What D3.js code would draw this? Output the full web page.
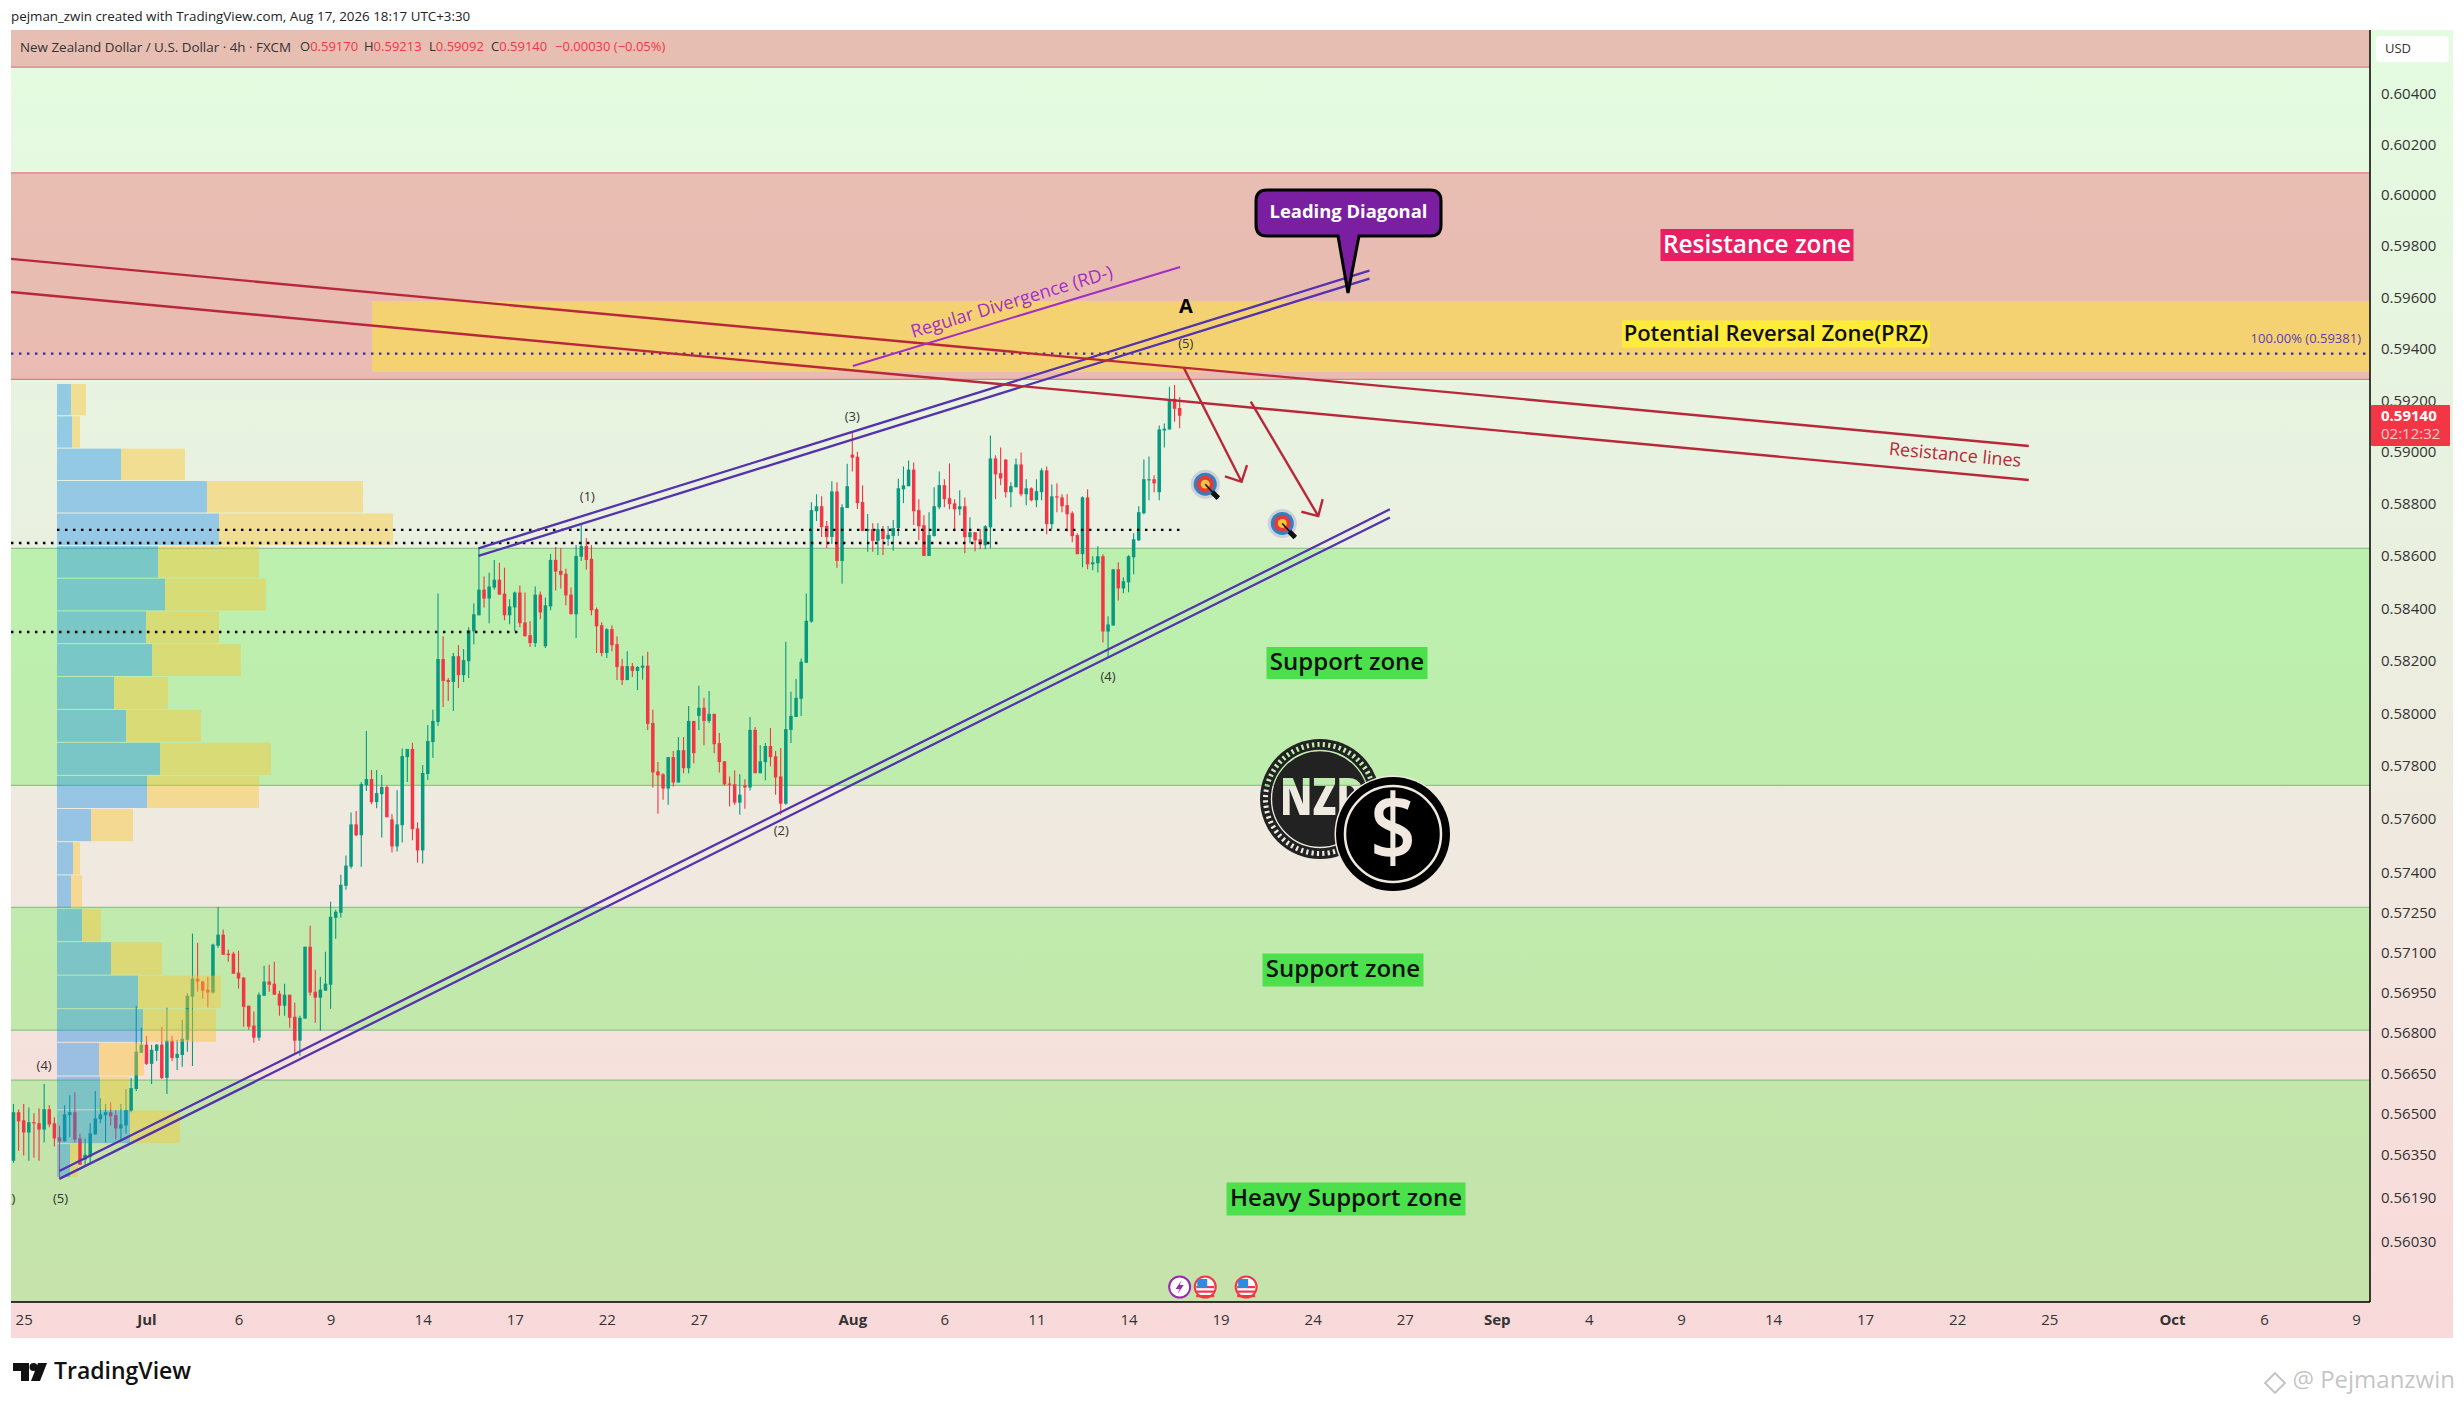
<!DOCTYPE html>
<html>
<head>
<meta charset="utf-8">
<script src="https://cdn.jsdelivr.net/npm/d3@7"></script>
<style>
  html, body { margin: 0; background: #fff; }
  svg { display: block; }
  text { font-family: "Open Sans", sans-serif; }
</style>
</head>
<body>
<svg id="chart" width="2464" height="1406"></svg>
<script>
// 4h candles, in 1/100000 of a dollar. First value is bar -2 (bar 0 is the "25" tick)
const opens = [56327,56506,56476,56431,56469,56465,56442,56517,56465,56413,56398,56495,56506,56409,56331,56342,56424,56480,56495,56506,56495,56446,56457,56510,56592,56726,56756,56685,56733,56756,56633,56771,56707,56718,56774,56935,57002,56991,56961,56950,57125,57166,57095,57095,57024,57006,56901,56827,56782,56938,56991,56983,56946,56901,56942,56860,56771,56853,57121,56953,56931,56957,56979,57229,57248,57349,57421,57580,57539,57728,57751,57664,57694,57721,57599,57497,57577,57834,57865,57565,57482,57770,57891,57967,58206,58126,58119,58217,58145,58198,58312,58373,58471,58437,58479,58509,58456,58373,58403,58460,58346,58297,58267,58452,58255,58407,58585,58543,58532,58452,58377,58597,58638,58589,58396,58335,58229,58320,58263,58179,58126,58179,58161,58173,58181,57963,57780,57769,57715,57834,57738,57860,57792,57971,57990,58021,57971,57998,57887,57818,57734,57731,57662,57727,57719,57937,57773,57815,57876,57837,57761,57658,57937,57986,58055,58192,58349,58772,58791,58715,58673,58848,58581,58784,58990,58982,58807,58696,58703,58658,58703,58665,58677,58707,58856,58868,58932,58776,58718,58600,58676,58787,58872,58822,58802,58779,58791,58672,58691,58664,58641,58710,58975,58918,58971,58845,58864,58952,58837,58860,58814,58845,58929,58722,58829,58825,58795,58764,58680,58607,58825,58568,58572,58599,58311,58334,58549,58476,58499,58595,58660,58764,58891,58895,58845,59083,59087,59206,59170];
const closes = [56506,56472,56431,56469,56465,56442,56517,56461,56409,56398,56498,56506,56405,56312,56349,56428,56483,56498,56506,56491,56446,56461,56513,56595,56730,56756,56685,56737,56756,56633,56771,56707,56722,56778,56938,57002,56991,56957,56950,57129,57166,57091,57091,57020,57002,56897,56823,56782,56942,56991,56979,56942,56901,56942,56856,56771,56856,57121,56950,56931,56961,56983,57233,57252,57353,57425,57580,57539,57732,57751,57664,57698,57721,57607,57497,57580,57838,57865,57562,57482,57774,57895,57971,58206,58123,58119,58217,58145,58202,58316,58377,58471,58437,58483,58509,58452,58373,58407,58460,58343,58293,58267,58452,58384,58411,58585,58540,58528,58449,58377,58600,58638,58585,58392,58331,58229,58320,58259,58176,58126,58179,58161,58176,58181,57960,57776,57765,57715,57834,57738,57860,57792,57971,57849,58021,57971,57998,57883,57815,57731,57731,57662,57692,57719,57937,57773,57818,57876,57834,57757,57658,57940,57990,58059,58196,58352,58776,58791,58711,58673,58848,58581,58787,58868,58978,58803,58696,58703,58658,58703,58665,58681,58707,58860,58871,58932,58772,58714,58600,58680,58791,58872,58818,58799,58779,58791,58672,58691,58660,58645,58714,58975,58914,58898,58845,58868,58952,58837,58860,58814,58849,58929,58722,58829,58825,58791,58760,58676,58607,58825,58568,58576,58599,58311,58338,58549,58476,58503,58599,58664,58768,58895,58895,58879,59087,59090,59202,59167,59140];
const highs = [56536,56516,56536,56523,56502,56520,56610,56532,56487,56456,56532,56569,56580,56426,56409,56465,56584,56558,56536,56543,56513,56536,56592,56633,56901,56819,56789,56756,56759,56823,56894,56789,56774,56849,56946,57170,57136,56994,57009,57132,57270,57185,57110,57102,57106,57006,56901,56879,56950,57050,57054,57065,56957,56983,56942,56912,56864,57121,57199,57035,57009,57102,57289,57259,57391,57463,57625,57630,57740,57933,57785,57785,57766,57728,57618,57709,57867,57865,57888,57588,57804,57956,58013,58456,58293,58134,58229,58259,58244,58327,58418,58631,58521,58536,58585,58574,58555,58434,58464,58487,58460,58350,58483,58464,58441,58608,58634,58631,58551,58479,58642,58724,58669,58642,58403,58346,58324,58335,58293,58206,58236,58191,58179,58219,58234,58013,57815,57773,57834,57857,57910,57910,58028,57971,58105,58059,58085,57998,57925,57818,57761,57784,57769,57750,57986,57948,57879,57887,57944,57857,57868,58272,58082,58131,58208,58456,58806,58837,58829,58734,58887,58883,58799,58955,59077,59001,58871,58761,58726,58726,58715,58715,58738,58897,58944,58967,58959,58818,58756,58768,58864,58925,58895,58956,58818,58852,58825,58749,58691,58703,58718,59064,58987,59017,58971,58883,58975,58998,58895,58864,58895,58937,58944,58875,58879,58837,58837,58772,58687,58829,58856,58599,58637,58607,58369,58549,58576,58518,58603,58687,58791,58971,58983,58910,59102,59110,59252,59259,59213];
const lows = [56319,56364,56346,56327,56338,56327,56394,56450,56379,56265,56398,56414,56394,56312,56312,56319,56424,56465,56394,56457,56405,56401,56426,56506,56584,56726,56681,56610,56696,56629,56573,56696,56662,56674,56730,56677,56953,56927,56894,56946,57117,57091,57065,57020,56965,56823,56812,56763,56771,56938,56953,56942,56864,56864,56819,56726,56715,56853,56938,56838,56808,56957,56890,57151,57229,57334,57414,57535,57421,57706,57656,57641,57531,57607,57474,57478,57512,57740,57520,57436,57433,57747,57831,57952,58024,58047,58009,58096,58119,58134,58263,58373,58403,58343,58471,58452,58354,58339,58312,58327,58293,58252,58252,58358,58248,58392,58468,58475,58411,58377,58286,58581,58547,58373,58229,58217,58210,58236,58126,58107,58126,58138,58088,58127,57937,57719,57620,57673,57654,57723,57738,57773,57773,57811,57937,57879,57963,57849,57776,57727,57647,57654,57616,57639,57708,57773,57773,57746,57799,57692,57616,57654,57887,57986,57990,58192,58345,58734,58673,58631,58646,58555,58494,58784,58925,58780,58696,58616,58616,58604,58604,58639,58620,58677,58803,58868,58719,58660,58600,58600,58676,58779,58787,58779,58695,58756,58610,58649,58618,58626,58626,58630,58818,58872,58825,58787,58864,58829,58795,58810,58787,58814,58683,58703,58768,58768,58695,58653,58607,58557,58549,58545,58537,58269,58215,58334,58430,58457,58461,58530,58657,58760,58814,58845,58814,59017,59087,59117,59092];

// price axis labels
const priceTicks = [0.604,0.602,0.6,0.598,0.596,0.594,0.592,0.59,0.588,0.586,0.584,0.582,0.58,0.578,0.576,0.574,0.5725,0.571,0.5695,0.568,0.5665,0.565,0.5635,0.5619,0.5603];

// time axis labels, with the bar they sit on
const dateLabels = ["25","Jul","6","9","14","17","22","27","Aug","6","11","14","19","24","27","Sep","4","9","14","17","22","25","Oct","6","9"];
const dateBars = [0,24,42,60,78,96,114,132,162,180,198,216,234,252,270,288,306,324,342,360,378,396,420,438,456];
const monthLabels = ["Jul","Aug","Sep","Oct"];

// volume profile: 24 rows of 0.00125 from the top price down
const profileTop = 0.59263;
const profileStep = 0.00125;
const upVolume = [14,15,64,150,162,101,108,89,95,57,69,103,90,34,16,14,25,54,81,86,42,43,73,13];
const downVolume = [15,8,64,156,174,101,101,73,89,54,75,111,112,42,7,11,19,51,83,73,45,29,50,8];

const redZones = [[0.6072,0.60504],[0.60087,0.59281]];
const greenZones = [[0.58629,0.57727],[0.57268,0.5681],[0.56625,0.55809]];
const przZone = [0.59586,0.5931];
const przStartBar = 68.1;

const w = 2464, h = 1406;
const chart = { left: 11, right: 2370, top: 30, bottom: 1302, panelRight: 2453, panelBottom: 1338 };

const x = d3.scaleLinear().domain([0, 456]).range([23.7, 2356.1]);
const y = d3.scaleLog().domain([0.604, 0.5603]).range([93.5, 1241.5]);

const svg = d3.select("#chart");
const defs = svg.append("defs");

const bgGrad = defs.append("linearGradient").attr("id", "bgGrad")
  .attr("gradientUnits", "userSpaceOnUse")
  .attr("x1", 0).attr("x2", 0).attr("y1", chart.top).attr("y2", chart.panelBottom);
[[0,"#e3fce0"],[0.36,"#e9f1e0"],[0.67,"#f1e8df"],[0.78,"#f5e1dc"],[1,"#f9d9da"]].forEach((s) =>
  bgGrad.append("stop").attr("offset", s[0]).attr("stop-color", s[1]));

defs.append("clipPath").attr("id", "plotClip").append("rect")
  .attr("x", chart.left).attr("y", chart.top)
  .attr("width", chart.right - chart.left).attr("height", chart.bottom - chart.top);

svg.append("rect").attr("x", chart.left).attr("y", chart.top)
  .attr("width", chart.panelRight - chart.left).attr("height", chart.panelBottom - chart.top)
  .attr("fill", "url(#bgGrad)");

const plot = svg.append("g").attr("clip-path", "url(#plotClip)");

// zones
function zone(top, bottom, x0, fill, opacity, edge) {
  plot.append("rect").attr("x", x0).attr("y", y(top))
    .attr("width", chart.right - x0).attr("height", y(bottom) - y(top))
    .attr("fill", fill).attr("fill-opacity", opacity);
  if (!edge) return;
  [top, bottom].forEach((p) =>
    plot.append("line").attr("x1", x0).attr("x2", chart.right).attr("y1", y(p)).attr("y2", y(p))
      .attr("stroke", edge).attr("stroke-width", 1.3));
}
redZones.forEach((z) => zone(z[0], z[1], chart.left, "rgb(235,140,140)", 0.55, "#e07a86"));
greenZones.forEach((z) => zone(z[0], z[1], chart.left, "rgb(120,240,100)", 0.4, "#8cc48a"));
zone(przZone[0], przZone[1], x(przStartBar), "#f5d271", 1, null);

// candles
const candles = opens.map((o, i) => ({ bar: i - 2, o: o / 1e5, c: closes[i] / 1e5, h: highs[i] / 1e5, l: lows[i] / 1e5 }));
const up = "#089981", down = "#f23645";
const candle = plot.append("g").selectAll("g").data(candles).join("g");
candle.append("line")
  .attr("x1", (d) => x(d.bar)).attr("x2", (d) => x(d.bar))
  .attr("y1", (d) => y(d.h)).attr("y2", (d) => y(d.l))
  .attr("stroke", (d) => (d.c >= d.o ? up : down)).attr("stroke-width", 1.1);
candle.append("rect")
  .attr("x", (d) => x(d.bar) - 1.75).attr("width", 3.5)
  .attr("y", (d) => y(Math.max(d.o, d.c)))
  .attr("height", (d) => Math.max(1.2, y(Math.min(d.o, d.c)) - y(Math.max(d.o, d.c))))
  .attr("fill", (d) => (d.c >= d.o ? up : down));

// volume profile
const vol = d3.scaleLinear().domain([0, 100]).range([57, 157]);
const profile = plot.append("g").selectAll("g").data(upVolume).join("g");
const rowTop = (i) => y(profileTop - i * profileStep);
const rowH = (i) => rowTop(i + 1) - rowTop(i) - 1;
profile.append("rect")
  .attr("x", vol(0)).attr("y", (d, i) => rowTop(i))
  .attr("width", (d) => vol(d) - vol(0)).attr("height", (d, i) => rowH(i))
  .attr("fill", "rgb(20,140,235)").attr("fill-opacity", 0.4);
profile.append("rect")
  .attr("x", (d) => vol(d)).attr("y", (d, i) => rowTop(i))
  .attr("width", (d, i) => vol(downVolume[i]) - vol(0)).attr("height", (d, i) => rowH(i))
  .attr("fill", "rgb(250,195,48)").attr("fill-opacity", 0.44);

// dotted levels [price, fromBar, toBar]
const dottedLevels = [[0.587,6.5,226,"#000"],[0.5865,-2.5,190.4,"#000"],[0.58309,-2.5,96.6,"#000"],[0.59381,-2.5,456,"#3c2aa0"]];
plot.append("g").selectAll("line").data(dottedLevels).join("line")
  .attr("x1", (d) => x(d[1])).attr("x2", (d) => (d[2] === 456 ? chart.right : x(d[2])))
  .attr("y1", (d) => y(d[0])).attr("y2", (d) => y(d[0]))
  .attr("stroke", (d) => d[3]).attr("stroke-width", 2.4).attr("stroke-dasharray", "2.5 5.5");

// trend lines [bar, price, bar, price]
const wedgeLines = [
  [6.96,0.56289,267.1,0.58779],[6.96,0.5626,267.1,0.58748],
  [88.9,0.58629,263.1,0.59704],[88.9,0.586,263.1,0.59673]
];
const resistanceLines = [[-2.48,0.5975,392,0.59023],[-2.48,0.59621,392,0.58892]];
const divergenceLine = [[162.1,0.59333,226.1,0.59718]];
function drawLines(rows, color, width) {
  plot.append("g").selectAll("line").data(rows).join("line")
    .attr("x1", (d) => x(d[0])).attr("y1", (d) => y(d[1]))
    .attr("x2", (d) => x(d[2])).attr("y2", (d) => y(d[3]))
    .attr("stroke", color).attr("stroke-width", width);
}
drawLines(wedgeLines, "#5433ad", 2.3);
drawLines(resistanceLines, "#b8283a", 2.4);
drawLines(divergenceLine, "#a32fc4", 2);

// arrows
const arrows = [[226.8,0.59326,238.1,0.58885],[239.9,0.59195,253.1,0.58753]];
arrows.forEach((a) => {
  const x1 = x(a[0]), y1 = y(a[1]), x2 = x(a[2]), y2 = y(a[3]);
  const ang = Math.atan2(y1 - y2, x1 - x2), len = 17.5, spread = Math.PI / 4;
  const barb = (s) => `${x2 + len * Math.cos(ang + s)},${y2 + len * Math.sin(ang + s)}`;
  plot.append("path")
    .attr("d", `M${x1},${y1}L${x2},${y2}M${barb(spread)}L${x2},${y2}L${barb(-spread)}`)
    .attr("fill", "none").attr("stroke", "#b8283a").attr("stroke-width", 2.4);
});

// target icons
const targets = [[231,0.58876],[246.06,0.58725]];
targets.forEach((t) => {
  const g = svg.append("g").attr("transform", `translate(${x(t[0])},${y(t[1])})`);
  [[14.5,"#cdd0d6"],[11.5,"#2f80c4"],[8.5,"#e23b3b"],[4.5,"#efc23f"]].forEach((r) =>
    g.append("circle").attr("r", r[0]).attr("fill", r[1]));
  g.append("line").attr("x1", 0).attr("y1", 0).attr("x2", 13).attr("y2", 14)
    .attr("stroke", "#111").attr("stroke-width", 1.5);
  g.append("line").attr("x1", 7).attr("y1", 8).attr("x2", 13).attr("y2", 14)
    .attr("stroke", "#111").attr("stroke-width", 5);
});

// wave labels
const waveLabels = [["(1)",110.2,0.58825],["(2)",148.1,0.57552],["(3)",162,0.59134],["(4)",212,0.58137],["(5)",227.2,0.59417],["(4)",4,0.56675],["(5)",7.2,0.56185],[")",-2,0.56185]];
svg.append("g").selectAll("text").data(waveLabels).join("text")
  .attr("x", (d) => x(d[1])).attr("y", (d) => y(d[2]))
  .attr("text-anchor", "middle").attr("dominant-baseline", "middle")
  .attr("font-size", 13).attr("fill", "#333").text((d) => d[0]);
svg.append("text").attr("x", x(227.2)).attr("y", y(0.59561))
  .attr("text-anchor", "middle").attr("dominant-baseline", "middle")
  .attr("font-size", 20).attr("font-weight", 700).attr("fill", "#000").text("A");

svg.append("text")
  .attr("transform", `translate(1012,303) rotate(-16.8)`)
  .attr("text-anchor", "middle").attr("dominant-baseline", "middle")
  .attr("font-size", 18.2).attr("fill", "#a32fc4").text("Regular Divergence (RD-)");
svg.append("text")
  .attr("transform", `translate(1955,456) rotate(5.3)`)
  .attr("text-anchor", "middle").attr("dominant-baseline", "middle")
  .attr("font-size", 18).attr("fill", "#b8283a").text("Resistance lines");
svg.append("text").attr("x", 2361).attr("y", 340).attr("text-anchor", "end")
  .attr("dominant-baseline", "middle").attr("font-size", 13).attr("fill", "#5a3fb0")
  .text("100.00% (0.59381)");

// boxed zone names [text, cx, cy, w, h, bg, color, size]
const zoneLabels = [
  ["Resistance zone",1757,245,193,32,"#e91e63","#fff",24.4],
  ["Potential Reversal Zone(PRZ)",1776,334,308,27,"#ffeb3b","#111",22],
  ["Support zone",1347,663,161,32,"#4ce04c","#111",24],
  ["Support zone",1343,970,161,33,"#4ce04c","#111",24],
  ["Heavy Support zone",1346,1199,239,33,"#4ce04c","#111",24]
];
const zl = svg.append("g").selectAll("g").data(zoneLabels).join("g");
zl.append("rect").attr("x", (d) => d[1] - d[3] / 2).attr("y", (d) => d[2] - d[4] / 2)
  .attr("width", (d) => d[3]).attr("height", (d) => d[4]).attr("fill", (d) => d[5]);
zl.append("text").attr("x", (d) => d[1]).attr("y", (d) => d[2] + 1)
  .attr("text-anchor", "middle").attr("dominant-baseline", "middle")
  .attr("font-weight", 600).attr("font-size", (d) => d[7]).attr("fill", (d) => d[6]).text((d) => d[0]);

// callout
const cb = { x0: 1256, x1: 1441, y0: 190, y1: 236, r: 11, tx0: 1338, tx1: 1359, tipX: 1348, tipY: 293 };
svg.append("path")
  .attr("d", `M${cb.x0 + cb.r},${cb.y0}H${cb.x1 - cb.r}Q${cb.x1},${cb.y0} ${cb.x1},${cb.y0 + cb.r}V${cb.y1 - cb.r}Q${cb.x1},${cb.y1} ${cb.x1 - cb.r},${cb.y1}H${cb.tx1}L${cb.tipX},${cb.tipY}L${cb.tx0},${cb.y1}H${cb.x0 + cb.r}Q${cb.x0},${cb.y1} ${cb.x0},${cb.y1 - cb.r}V${cb.y0 + cb.r}Q${cb.x0},${cb.y0} ${cb.x0 + cb.r},${cb.y0}Z`)
  .attr("fill", "#7b1fa2").attr("stroke", "#000").attr("stroke-width", 3);
svg.append("text").attr("x", 1348.5).attr("y", 213).attr("text-anchor", "middle")
  .attr("dominant-baseline", "middle").attr("font-size", 18.4).attr("font-weight", 700)
  .attr("fill", "#fff").text("Leading Diagonal");

// coins, letters punched out so the zones show through
const nzdMask = defs.append("mask").attr("id", "nzdMask").attr("maskUnits", "userSpaceOnUse")
  .attr("x", 1250).attr("y", 730).attr("width", 140).attr("height", 140);
nzdMask.append("circle").attr("cx", 1320).attr("cy", 799).attr("r", 60).attr("fill", "#fff");
nzdMask.append("circle").attr("cx", 1320).attr("cy", 799).attr("r", 54.5).attr("fill", "none")
  .attr("stroke", "#000").attr("stroke-width", 5).attr("stroke-dasharray", "2.2 3.2");
nzdMask.append("circle").attr("cx", 1320).attr("cy", 799).attr("r", 48.5).attr("fill", "none")
  .attr("stroke", "#000").attr("stroke-width", 1.3);
nzdMask.append("text").attr("x", 1280).attr("y", 801).attr("dominant-baseline", "middle")
  .attr("textLength", 85).attr("lengthAdjust", "spacingAndGlyphs")
  .attr("font-size", 52).attr("font-weight", 800).attr("fill", "#000").text("NZD");
svg.append("rect").attr("x", 1250).attr("y", 730).attr("width", 140).attr("height", 140)
  .attr("fill", "#222").attr("mask", "url(#nzdMask)");

const usdMask = defs.append("mask").attr("id", "usdMask").attr("maskUnits", "userSpaceOnUse")
  .attr("x", 1330).attr("y", 770).attr("width", 130).attr("height", 130);
usdMask.append("circle").attr("cx", 1393).attr("cy", 834).attr("r", 57).attr("fill", "#fff");
usdMask.append("circle").attr("cx", 1393).attr("cy", 834).attr("r", 48).attr("fill", "none")
  .attr("stroke", "#000").attr("stroke-width", 2.5);
usdMask.append("text").attr("x", 1370).attr("y", 836).attr("dominant-baseline", "middle")
  .attr("textLength", 46).attr("lengthAdjust", "spacingAndGlyphs")
  .attr("font-size", 92).attr("font-weight", 600).attr("fill", "#000").text("$");
svg.append("circle").attr("cx", 1393).attr("cy", 834).attr("r", 58.5).attr("fill", "#f1e8df");
svg.append("rect").attr("x", 1330).attr("y", 770).attr("width", 130).attr("height", 130)
  .attr("fill", "#000").attr("mask", "url(#usdMask)");

// event icons on the time axis edge
const eventIcons = [[226,"bolt"],[231,"flag"],[239,"flag"]];
eventIcons.forEach((e) => {
  const g = svg.append("g").attr("transform", `translate(${x(e[0])},1287)`);
  if (e[1] === "bolt") {
    g.append("circle").attr("r", 10.5).attr("fill", "#fff").attr("stroke", "#9c27b0").attr("stroke-width", 2);
    g.append("path").attr("d", "M2,-7L-4,2H0L-2,7L4,-2H0Z").attr("fill", "#9c27b0");
  } else {
    g.append("circle").attr("r", 10.5).attr("fill", "#fff").attr("stroke", "#f23645").attr("stroke-width", 2);
    [-1, 3.5, 8].forEach((v) => g.append("rect").attr("x", -9).attr("y", v).attr("width", 18).attr("height", 2.2).attr("fill", "#f23645"));
    g.append("rect").attr("x", -8).attr("y", -8).attr("width", 10).attr("height", 9).attr("fill", "#2d8be0");
  }
});

// axes
const yAxis = svg.append("g").attr("transform", `translate(${chart.right},0)`)
  .call(d3.axisRight(y).tickValues(priceTicks).tickFormat(d3.format(".5f")).tickSize(0).tickPadding(11));
yAxis.select(".domain").remove();
yAxis.selectAll("text").attr("font-size", 15).attr("font-family", '"Open Sans", sans-serif').attr("fill", "#333");

const barLabel = (b) => dateLabels[dateBars.indexOf(b)];
const xAxis = svg.append("g").attr("transform", `translate(0,${chart.bottom})`)
  .call(d3.axisBottom(x).tickValues(dateBars).tickFormat(barLabel).tickSize(0).tickPadding(12));
xAxis.select(".domain").remove();
xAxis.selectAll("text").attr("font-size", 15).attr("font-family", '"Open Sans", sans-serif').attr("fill", "#333")
  .attr("font-weight", (b) => (monthLabels.includes(barLabel(b)) ? 700 : 400));

svg.append("line").attr("x1", chart.right).attr("x2", chart.right).attr("y1", chart.top).attr("y2", chart.bottom)
  .attr("stroke", "#000").attr("stroke-width", 1.5);
svg.append("line").attr("x1", chart.left).attr("x2", chart.right).attr("y1", chart.bottom).attr("y2", chart.bottom)
  .attr("stroke", "#000").attr("stroke-width", 1.5);

// currency box and last price tag
svg.append("rect").attr("x", 2376).attr("y", 36).attr("width", 73).attr("height", 26).attr("rx", 4).attr("fill", "#fff");
svg.append("text").attr("x", 2385).attr("y", 50).attr("dominant-baseline", "middle").attr("font-size", 13).attr("fill", "#333").text("USD");
svg.append("rect").attr("x", 2371).attr("y", 405).attr("width", 79).attr("height", 41).attr("rx", 1).attr("fill", "#f23645");
svg.append("text").attr("x", 2381).attr("y", 417).attr("dominant-baseline", "middle").attr("font-size", 15).attr("font-weight", 700).attr("fill", "#fff").text("0.59140");
svg.append("text").attr("x", 2381).attr("y", 435).attr("dominant-baseline", "middle").attr("font-size", 15).attr("fill", "#fff").attr("fill-opacity", 0.75).text("02:12:32");

// header and legend
svg.append("text").attr("x", 11).attr("y", 17.5).attr("dominant-baseline", "middle").attr("font-size", 13.35).attr("fill", "#222")
  .text("pejman_zwin created with TradingView.com, Aug 17, 2026 18:17 UTC+3:30");
svg.append("text").attr("x", 20).attr("y", 48).attr("dominant-baseline", "middle").attr("font-size", 13.4).attr("fill", "#333")
  .text("New Zealand Dollar / U.S. Dollar · 4h · FXCM");
const legendKeys = ["O","H","L","C"];
const legendVals = ["0.59170","0.59213","0.59092","0.59140"];
const legendX = [300,364,429,491];
legendKeys.forEach((k, i) => {
  const t = svg.append("text").attr("x", legendX[i]).attr("y", 48).attr("dominant-baseline", "middle").attr("font-size", 13).attr("fill", "#333").text(k);
  t.append("tspan").attr("fill", "#f23645").text(legendVals[i]);
});
svg.append("text").attr("x", 555).attr("y", 48).attr("dominant-baseline", "middle").attr("font-size", 13).attr("fill", "#f23645").text("−0.00030 (−0.05%)");

// logo and watermark
const logo = svg.append("g").attr("fill", "#111");
logo.append("path").attr("d", "M13,1363H29V1381H21V1371H13Z");
logo.append("circle").attr("cx", 33.5).attr("cy", 1367).attr("r", 4);
logo.append("path").attr("d", "M38,1363H47L40,1381H31Z");
svg.append("text").attr("x", 54).attr("y", 1373).attr("dominant-baseline", "middle").attr("font-family", "Inter").attr("font-size", 23).attr("font-weight", 600).attr("fill", "#111").text("TradingView");
svg.append("rect").attr("x", -7).attr("y", -7).attr("width", 14).attr("height", 14)
  .attr("transform", "translate(2275,1383) rotate(45)")
  .attr("fill", "none").attr("stroke", "#8a8a8a").attr("stroke-opacity", 0.5).attr("stroke-width", 2);
svg.append("text").attr("x", 2455).attr("y", 1382).attr("text-anchor", "end").attr("dominant-baseline", "middle").attr("font-size", 24).attr("fill", "#8a8a8a").attr("fill-opacity", 0.5).text("@ Pejmanzwin");
</script>
</body>
</html>
